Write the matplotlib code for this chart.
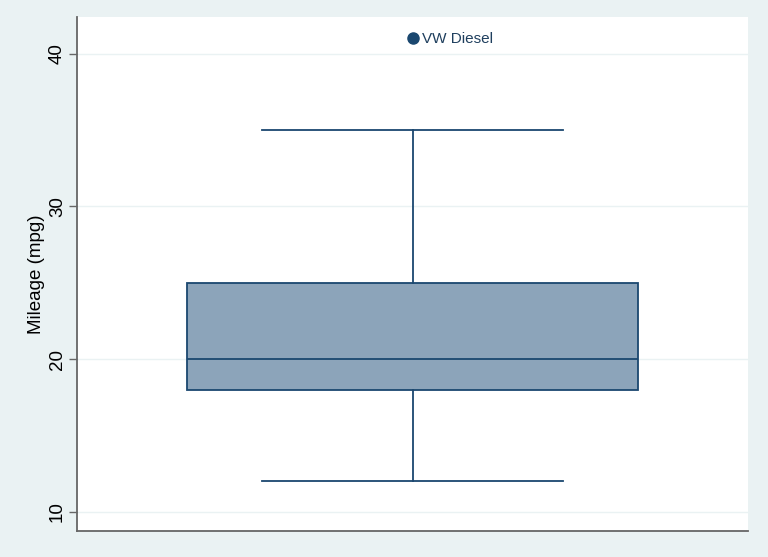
import matplotlib
matplotlib.use("Agg")
import matplotlib.pyplot as plt

plt.rcParams["font.family"] = ["Liberation Sans", "DejaVu Sans"]

# data
q1, median, q3 = 18, 20, 25
whisker_low, whisker_high = 12, 35
outliers = [41]
outlier_labels = ["VW Diesel"]
yticks = [10, 20, 30, 40]
ylabel = "Mileage (mpg)"

navy = "#1a476f"
bg = "#eaf2f3"

fig = plt.figure(figsize=(7.68, 5.57), dpi=100, facecolor=bg)
ax = fig.add_axes([0.1003, 0.0467, 0.8737, 0.9228])
ax.set_facecolor("white")

stats = [dict(med=median, q1=q1, q3=q3, whislo=whisker_low, whishi=whisker_high,
              fliers=outliers, label="")]
ax.bxp(stats, positions=[1], widths=[1.344], capwidths=[0.896], patch_artist=True,
       boxprops=dict(facecolor="#8ca4ba", edgecolor=navy, linewidth=1.3),
       medianprops=dict(color=navy, linewidth=1.3),
       whiskerprops=dict(color=navy, linewidth=1.3),
       capprops=dict(color=navy, linewidth=1.3),
       flierprops=dict(marker="o", markerfacecolor=navy, markeredgecolor=navy, markersize=8),
       zorder=3)
for v, lab in zip(outliers, outlier_labels):
    ax.annotate(lab, (1, v), xytext=(6.5, -0.8), textcoords="offset points",
                va="center", ha="left", fontsize=11, color="#1f3f5e")

ax.set_xlim(0, 2)
ax.set_ylim(8.76, 42.4)
ax.set_yticks(yticks)
ax.set_yticklabels([str(t) for t in yticks], rotation=90, va="center", fontsize=13.5)
ax.set_xticks([])
ax.set_ylabel(ylabel, fontsize=13.5, labelpad=3)
ax.grid(axis="y", color=bg, linewidth=1, zorder=0)
ax.set_axisbelow(True)
for s in ["top", "right"]:
    ax.spines[s].set_visible(False)
for s in ["left", "bottom"]:
    ax.spines[s].set_color("#666666")
    ax.spines[s].set_linewidth(1.3)
ax.tick_params(axis="y", length=6, width=1, color="#666666", pad=2)

fig.savefig("out.png", dpi=100, facecolor=bg)
